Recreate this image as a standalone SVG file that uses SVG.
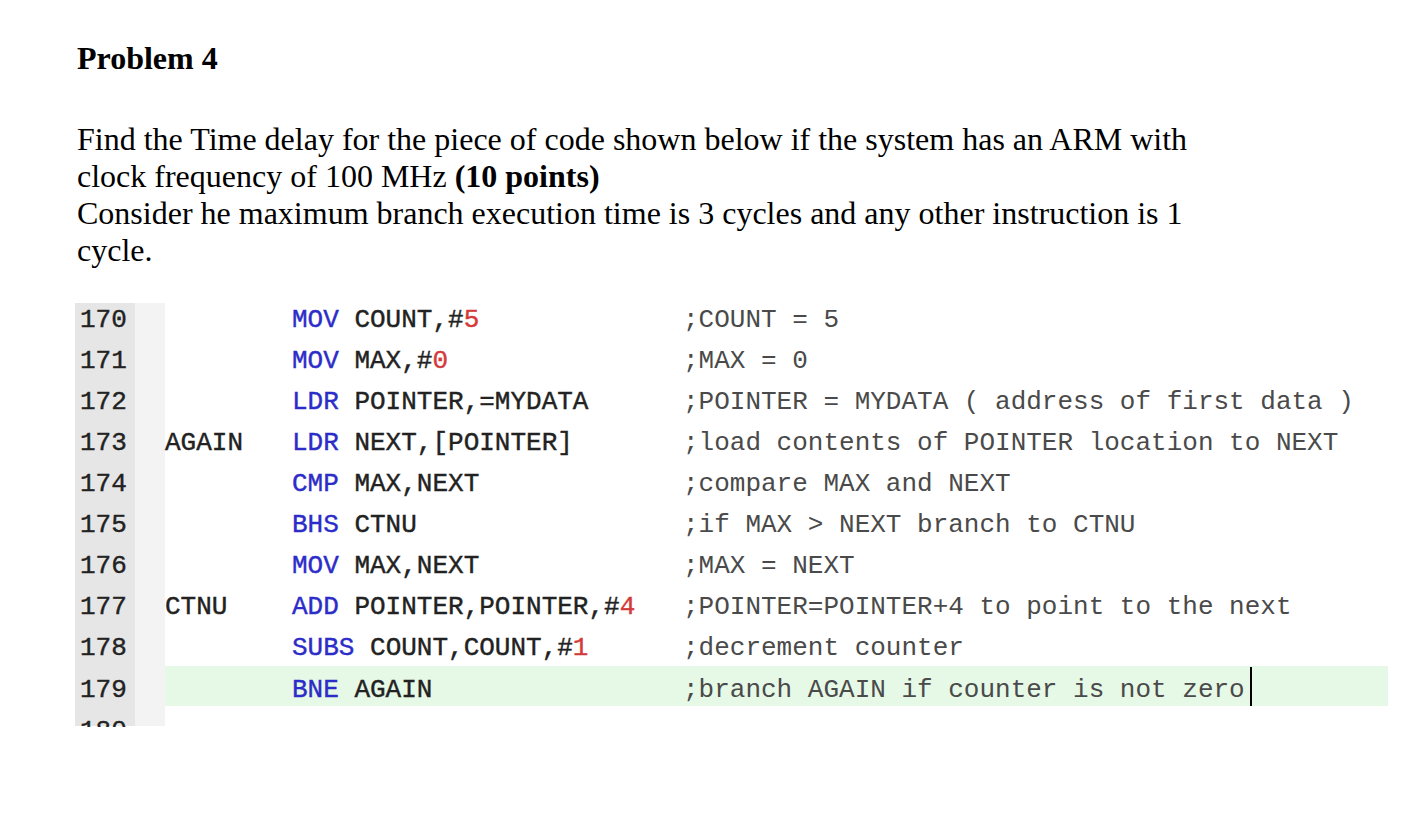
<svg xmlns="http://www.w3.org/2000/svg" width="1426" height="836" viewBox="0 0 1426 836">
<style>
.t{font-family:"Liberation Serif","Times New Roman",serif;font-size:32px;fill:#000}
.c{font-family:"Liberation Mono","Courier New",monospace;font-size:26px;fill:#222;stroke:#222;stroke-width:0.4}
.cm{font-family:"Liberation Mono","Courier New",monospace;font-size:26px;fill:#4a4a4a}
.k{fill:#2c2cc8;stroke:#2c2cc8}
.n{fill:#d43a3a;stroke:#d43a3a}
</style>
<rect width="1426" height="836" fill="#fff"/>
<text class="t" x="77" y="69" font-weight="bold" font-size="37">Problem 4</text>
<text class="t" x="77" y="150">Find the Time delay for the piece of code shown below if the system has an ARM with</text>
<text class="t" x="77" y="187">clock frequency of 100 MHz <tspan font-weight="bold">(10 points)</tspan></text>
<text class="t" x="77" y="224">Consider he maximum branch execution time is 3 cycles and any other instruction is 1</text>
<text class="t" x="77" y="261">cycle.</text>
<rect x="75" y="303" width="60" height="423" fill="#e6e6e6"/>
<rect x="135" y="303" width="30" height="423" fill="#f3f3f3"/>
<rect x="165" y="666" width="1223" height="40" fill="#e6f8e6"/>
<g class="c">
<text x="80" y="327">170</text><text x="80" y="368">171</text><text x="80" y="409">172</text>
<text x="80" y="450">173</text><text x="80" y="491">174</text><text x="80" y="532">175</text>
<text x="80" y="573">176</text><text x="80" y="614">177</text><text x="80" y="655">178</text>
<text x="80" y="697">179</text><text x="80" y="738">180</text>
<text x="165" y="450">AGAIN</text><text x="165" y="614">CTNU</text>
<text x="292" y="327"><tspan class="k">MOV</tspan> COUNT,#<tspan class="n">5</tspan></text>
<text x="292" y="368"><tspan class="k">MOV</tspan> MAX,#<tspan class="n">0</tspan></text>
<text x="292" y="409"><tspan class="k">LDR</tspan> POINTER,=MYDATA</text>
<text x="292" y="450"><tspan class="k">LDR</tspan> NEXT,[POINTER]</text>
<text x="292" y="491"><tspan class="k">CMP</tspan> MAX,NEXT</text>
<text x="292" y="532"><tspan class="k">BHS</tspan> CTNU</text>
<text x="292" y="573"><tspan class="k">MOV</tspan> MAX,NEXT</text>
<text x="292" y="614"><tspan class="k">ADD</tspan> POINTER,POINTER,#<tspan class="n">4</tspan></text>
<text x="292" y="655"><tspan class="k">SUBS</tspan> COUNT,COUNT,#<tspan class="n">1</tspan></text>
<text x="292" y="697"><tspan class="k">BNE</tspan> AGAIN</text>
</g>
<rect x="70" y="727" width="100" height="20" fill="#fff"/>
<g class="cm">
<text x="683" y="327">;COUNT = 5</text>
<text x="683" y="368">;MAX = 0</text>
<text x="683" y="409">;POINTER = MYDATA ( address of first data )</text>
<text x="683" y="450">;load contents of POINTER location to NEXT</text>
<text x="683" y="491">;compare MAX and NEXT</text>
<text x="683" y="532">;if MAX &gt; NEXT branch to CTNU</text>
<text x="683" y="573">;MAX = NEXT</text>
<text x="683" y="614">;POINTER=POINTER+4 to point to the next</text>
<text x="683" y="655">;decrement counter</text>
<text x="683" y="697">;branch AGAIN if counter is not zero</text>
</g>
<line x1="1251" y1="667" x2="1251" y2="706" stroke="#000" stroke-width="2"/>
</svg>
